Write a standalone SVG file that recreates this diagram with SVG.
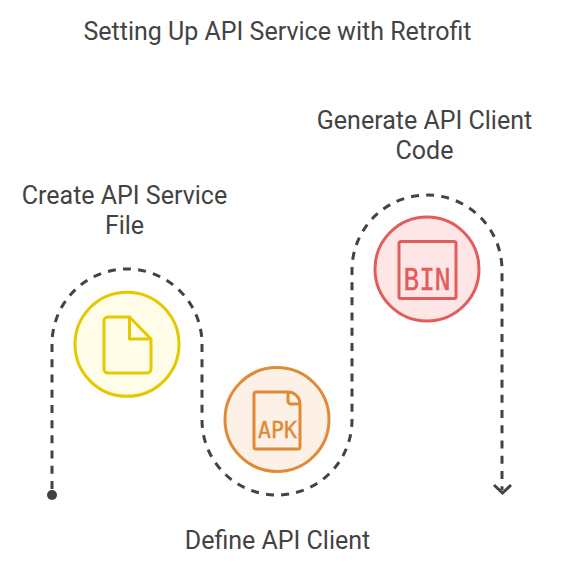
<svg xmlns="http://www.w3.org/2000/svg" width="563" height="571" viewBox="0 0 563 571">
<style>
.t{font-family:"Roboto","Liberation Sans",sans-serif;font-size:25px;fill:#434343;text-anchor:middle}
.i{fill:none;stroke-width:3;stroke-linecap:round;stroke-linejoin:round}
.c{stroke-width:3}
.m{font-family:"DejaVu Sans Mono","Liberation Mono",monospace;text-anchor:middle;stroke-width:.4}
.l{fill:none;stroke:#434343;stroke-width:3}
</style>
<rect width="563" height="571" fill="#fff"/>
<text id="title" class="t" x="277.500" y="39.500">Setting Up API Service with Retrofit</text>
<g id="connectors">
<path class="l" d="M52 495V344A75 75 0 0 1 202 344V420A75 75 0 0 0 352 420V270A75 75 0 0 1 502 270V490" stroke-dasharray="8 7.210" stroke-dashoffset="9.210"/>
<path class="l" d="M494 485L502.500 493L511 485"/>
<circle cx="52" cy="495" r="5" fill="#434343"/>
</g>
<g id="node-create">
<circle class="c" cx="127" cy="344.300" r="52" fill="#fffde7" stroke="#e6c800"/>
<path class="i" stroke="#e6c800" d="M129.500 317H108A4 4 0 0 0 104 321V369A4 4 0 0 0 108 373H147A4 4 0 0 0 151 369V339L129.500 317V339H151"/>
<text class="t" x="124.500" y="204">Create API Service</text>
<text class="t" x="124.500" y="234">File</text>
</g>
<g id="node-define">
<circle class="c" cx="277" cy="419.500" r="52" fill="#fdf0e6" stroke="#e08a35"/>
<path class="i" stroke="#e08a35" d="M288 392H256A2 2 0 0 0 254 394V447A2 2 0 0 0 256 449H298A2 2 0 0 0 300 447V404A12 12 0 0 0 288 392V401A3 3 0 0 0 291 404H300"/>
<text class="m" x="277.500" y="437.500" font-size="23" textLength="39" lengthAdjust="spacingAndGlyphs" fill="#e08a35" stroke="#e08a35">APK</text>
<text class="t" x="277.500" y="549">Define API Client</text>
</g>
<g id="node-generate">
<circle class="c" cx="427" cy="269" r="52" fill="#fee6e6" stroke="#e25c5c"/>
<rect class="i" stroke="#e25c5c" x="399" y="241.500" width="57" height="57" rx="2"/>
<text class="m" x="427" y="290" font-size="30" textLength="47" lengthAdjust="spacingAndGlyphs" fill="#e25c5c" stroke="#e25c5c">BIN</text>
<text class="t" x="424.500" y="129">Generate API Client</text>
<text class="t" x="424.500" y="159">Code</text>
</g>
</svg>
